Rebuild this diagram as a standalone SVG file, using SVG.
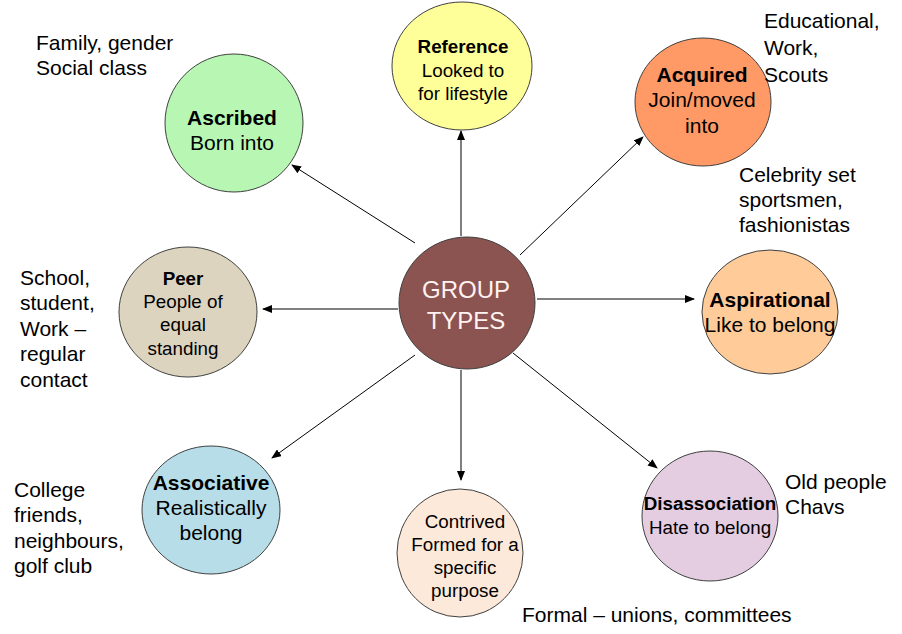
<svg xmlns="http://www.w3.org/2000/svg" width="902" height="634" viewBox="0 0 902 634">
<style>
text{font-family:"Liberation Sans",Arial,sans-serif;fill:#000}
.n{stroke:#404040;stroke-width:1}
.t{font-size:21px;text-anchor:middle}
.s{font-size:18.8px;text-anchor:middle}
.b{font-weight:bold}
.lab{font-size:21px}
.c{stroke:#000;stroke-width:1;fill:none;marker-end:url(#ah)}
</style>
<defs>
<marker id="ah" markerWidth="10" markerHeight="8" refX="9" refY="4" orient="auto" markerUnits="userSpaceOnUse">
<path d="M0,0 L10,4 L0,8 Z" fill="#000"/>
</marker>
</defs>
<rect width="902" height="634" fill="#fff"/>
<g id="connectors">
<line class="c" x1="461" y1="236" x2="461" y2="131"/>
<line class="c" x1="520" y1="255" x2="643" y2="137"/>
<line class="c" x1="415" y1="243" x2="292" y2="165"/>
<line class="c" x1="398" y1="309" x2="263" y2="309"/>
<line class="c" x1="537" y1="299" x2="694" y2="299"/>
<line class="c" x1="415" y1="355" x2="272" y2="458"/>
<line class="c" x1="461" y1="370" x2="461" y2="480"/>
<line class="c" x1="513" y1="353" x2="657" y2="468"/>
</g>
<g id="center">
<ellipse class="n" cx="467" cy="303" rx="68" ry="66" fill="#8C5450"/>
<text class="t" x="466" y="298" style="font-size:24px;fill:#FFF2F0">GROUP</text>
<text class="t" x="466" y="329" style="font-size:24px;fill:#FFF2F0">TYPES</text>
</g>
<g id="reference">
<ellipse class="n" cx="462" cy="66" rx="70" ry="64" fill="#FFFF99"/>
<text class="s b" x="463" y="53">Reference</text>
<text class="s" x="463" y="77">Looked to</text>
<text class="s" x="463" y="100">for lifestyle</text>
</g>
<g id="acquired">
<ellipse class="n" cx="703" cy="102" rx="68" ry="64" fill="#FF9966"/>
<text class="t b" x="702" y="82">Acquired</text>
<text class="t" x="702" y="107">Join/moved</text>
<text class="t" x="702" y="133">into</text>
</g>
<g id="ascribed">
<ellipse class="n" cx="234" cy="123" rx="69" ry="69" fill="#B7F7B3"/>
<text class="t b" x="232" y="125">Ascribed</text>
<text class="t" x="232" y="150">Born into</text>
</g>
<g id="peer">
<ellipse class="n" cx="188" cy="312" rx="69" ry="65" fill="#DDD4C0"/>
<text class="s b" x="183" y="285">Peer</text>
<text class="s" x="183" y="308">People of</text>
<text class="s" x="183" y="331">equal</text>
<text class="s" x="183" y="355">standing</text>
</g>
<g id="aspirational">
<ellipse class="n" cx="770" cy="312" rx="68" ry="62" fill="#FFCC99"/>
<text class="t b" x="770" y="307">Aspirational</text>
<text class="t" x="770" y="332">Like to belong</text>
</g>
<g id="associative">
<ellipse class="n" cx="211" cy="510" rx="69" ry="64" fill="#B7DEE8"/>
<text class="t b" x="211" y="490">Associative</text>
<text class="t" x="211" y="515">Realistically</text>
<text class="t" x="211" y="540">belong</text>
</g>
<g id="contrived">
<ellipse class="n" cx="460" cy="553" rx="63" ry="64" fill="#FDE9D9"/>
<text class="s" x="465" y="528">Contrived</text>
<text class="s" x="465" y="551">Formed for a</text>
<text class="s" x="465" y="574">specific</text>
<text class="s" x="465" y="597">purpose</text>
</g>
<g id="disassociation">
<ellipse class="n" cx="710" cy="516" rx="68" ry="65" fill="#E4CDE0"/>
<text class="s b" x="710" y="510">Disassociation</text>
<text class="s" x="710" y="534">Hate to belong</text>
</g>
<g id="labels">
<text class="lab" x="36" y="50">Family, gender</text>
<text class="lab" x="36" y="75">Social class</text>
<text class="lab" x="764" y="28">Educational,</text>
<text class="lab" x="764" y="55">Work,</text>
<text class="lab" x="764" y="82">Scouts</text>
<text class="lab" x="739" y="182">Celebrity set</text>
<text class="lab" x="739" y="207">sportsmen,</text>
<text class="lab" x="739" y="232">fashionistas</text>
<text class="lab" x="20" y="285">School,</text>
<text class="lab" x="20" y="310">student,</text>
<text class="lab" x="20" y="336">Work –</text>
<text class="lab" x="20" y="361">regular</text>
<text class="lab" x="20" y="387">contact</text>
<text class="lab" x="14" y="497">College</text>
<text class="lab" x="14" y="522">friends,</text>
<text class="lab" x="14" y="548">neighbours,</text>
<text class="lab" x="14" y="573">golf club</text>
<text class="lab" x="785" y="489">Old people</text>
<text class="lab" x="785" y="514">Chavs</text>
<text class="lab" x="522" y="622">Formal – unions, committees</text>
</g>
</svg>
